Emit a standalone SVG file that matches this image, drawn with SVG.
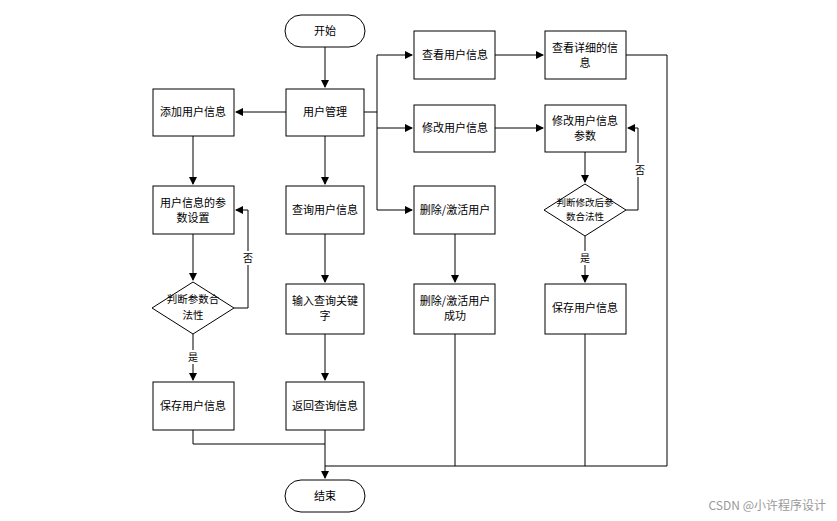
<svg xmlns="http://www.w3.org/2000/svg" width="837" height="521" viewBox="0 0 837 521">
<style>
.b{fill:#fff;stroke:#000;stroke-width:1}
.t{font-family:"Noto Sans CJK SC","Liberation Sans",sans-serif;font-size:11px;fill:#000;text-anchor:middle}
.c{fill:none;stroke:#000;stroke-width:1}
.l{fill:#fff}
</style>
<defs><marker id="a" markerWidth="8" markerHeight="8" refX="7" refY="4" orient="auto" markerUnits="userSpaceOnUse"><path d="M0,0L8,4L0,8z" fill="#000"/></marker></defs>
<rect width="837" height="521" fill="#fff"/>
<g id="connectors">
<path class="c" d="M325,47V87" marker-end="url(#a)"/>
<path class="c" d="M286,112H236" marker-end="url(#a)"/>
<path class="c" d="M325,136V184" marker-end="url(#a)"/>
<path class="c" d="M364,112H377V55M377,55H412" marker-end="url(#a)"/>
<path class="c" d="M377,112V210H412" marker-end="url(#a)"/>
<path class="c" d="M377,128H412" marker-end="url(#a)"/>
<path class="c" d="M495,55H543" marker-end="url(#a)"/>
<path class="c" d="M495,128H543" marker-end="url(#a)"/>
<path class="c" d="M626,55H667V466H325"/>
<path class="c" d="M585,152V182" marker-end="url(#a)"/>
<path class="c" d="M626,210H638V128H628" marker-end="url(#a)"/>
<path class="c" d="M585,236V282" marker-end="url(#a)"/>
<path class="c" d="M585,334V466"/>
<path class="c" d="M455,234V282" marker-end="url(#a)"/>
<path class="c" d="M455,334V466"/>
<path class="c" d="M193,136V184" marker-end="url(#a)"/>
<path class="c" d="M193,234V280" marker-end="url(#a)"/>
<path class="c" d="M234,308H248V210H236" marker-end="url(#a)"/>
<path class="c" d="M193,334V380" marker-end="url(#a)"/>
<path class="c" d="M193,430V444H325"/>
<path class="c" d="M325,234V282" marker-end="url(#a)"/>
<path class="c" d="M325,334V380" marker-end="url(#a)"/>
<path class="c" d="M325,430V478" marker-end="url(#a)"/>
<rect class="l" x="242" y="251" width="12" height="14"/><text class="t" x="248" y="262" style="font-size:10px">否</text>
<rect class="l" x="187" y="350" width="12" height="14"/><text class="t" x="193" y="361" style="font-size:10px">是</text>
<rect class="l" x="634" y="163" width="12" height="14"/><text class="t" x="640" y="174" style="font-size:10px">否</text>
<rect class="l" x="579" y="251" width="12" height="14"/><text class="t" x="585" y="262" style="font-size:10px">是</text>
</g>
<g id="start"><rect class="b" x="285" y="15" width="80" height="32" rx="16"/><text class="t" x="325" y="35">开始</text></g>
<g id="end"><rect class="b" x="285" y="480" width="80" height="32" rx="16"/><text class="t" x="325" y="500">结束</text></g>
<g id="mgmt"><rect class="b" x="286" y="89" width="78" height="47"/><text class="t" x="325" y="116">用户管理</text></g>
<g id="add"><rect class="b" x="153" y="89" width="81" height="47"/><text class="t" x="193" y="116">添加用户信息</text></g>
<g id="param"><rect class="b" x="153" y="186" width="81" height="48"/><text class="t" x="193" y="207">用户信息的参</text><text class="t" x="193" y="222">数设置</text></g>
<g id="check1"><path class="b" d="M193,282L234,308L193,334L152,308z"/><text class="t" x="193" y="303" style="font-size:10.5px">判断参数合</text><text class="t" x="193" y="319" style="font-size:10.5px">法性</text></g>
<g id="save1"><rect class="b" x="153" y="382" width="81" height="48"/><text class="t" x="193" y="410">保存用户信息</text></g>
<g id="query"><rect class="b" x="286" y="186" width="78" height="48"/><text class="t" x="325" y="214">查询用户信息</text></g>
<g id="input"><rect class="b" x="286" y="284" width="78" height="50"/><text class="t" x="325" y="305">输入查询关键</text><text class="t" x="325" y="320">字</text></g>
<g id="ret"><rect class="b" x="286" y="382" width="78" height="48"/><text class="t" x="325" y="410">返回查询信息</text></g>
<g id="view"><rect class="b" x="414" y="31" width="81" height="48"/><text class="t" x="455" y="59">查看用户信息</text></g>
<g id="modify"><rect class="b" x="414" y="105" width="81" height="47"/><text class="t" x="455" y="132">修改用户信息</text></g>
<g id="del"><rect class="b" x="414" y="186" width="81" height="48"/><text class="t" x="455" y="214">删除/激活用户</text></g>
<g id="delok"><rect class="b" x="414" y="284" width="81" height="50"/><text class="t" x="455" y="305">删除/激活用户</text><text class="t" x="455" y="320">成功</text></g>
<g id="detail"><rect class="b" x="545" y="31" width="81" height="48"/><text class="t" x="585" y="52">查看详细的信</text><text class="t" x="585" y="67">息</text></g>
<g id="modparam"><rect class="b" x="545" y="105" width="81" height="47"/><text class="t" x="585" y="125">修改用户信息</text><text class="t" x="585" y="140">参数</text></g>
<g id="check2"><path class="b" d="M585,184L626,210L585,236L544,210z"/><text class="t" x="585" y="206" style="font-size:9.5px">判断修改后参</text><text class="t" x="585" y="220" style="font-size:9.5px">数合法性</text></g>
<g id="save2"><rect class="b" x="545" y="284" width="81" height="50"/><text class="t" x="585" y="312">保存用户信息</text></g>
<text x="826" y="510" style="font-family:'Noto Sans CJK SC',sans-serif;font-size:12px;fill:#999;text-anchor:end">CSDN @小许程序设计</text>
</svg>
